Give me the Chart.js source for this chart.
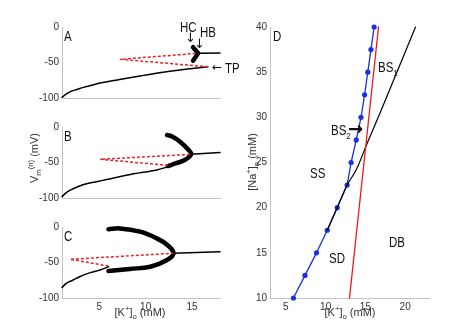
<!DOCTYPE html>
<html lang="en">
<head>
<meta charset="UTF-8">
<title>Bifurcation diagrams in [K+]o</title>
<script src="https://cdn.jsdelivr.net/npm/chart.js"></script>
<style>
  body { margin: 0; background: #fff; font-family: 'Liberation Sans', Arial, sans-serif; }
  #fig { position: relative; width: 474px; height: 335px; overflow: hidden; }
  .box { position: absolute; }
  .lbl { position: absolute; font-family: 'Liberation Sans', Arial, sans-serif;
         font-size: 14px; color: #111; line-height: 1; white-space: nowrap;
         transform: scaleX(0.82); transform-origin: left top; }
  .arr { position: absolute; font-family: 'DejaVu Sans', sans-serif; color: #111; line-height: 1; }
  .ax { position: absolute; font-size: 10px; color: #333; line-height: 1; white-space: nowrap; }
  .rot { transform: translate(-50%, -50%) rotate(-90deg); }
  .ctr { transform: translateX(-50%); }
  sub, sup { font-size: 70%; line-height: 0; }
</style>
</head>
<body>
<div id="fig">
  <div id="pA" class="box"></div>
  <div id="pB" class="box"></div>
  <div id="pC" class="box"></div>
  <div id="pD" class="box"></div>

  <span class="lbl" style="left:64px;top:29px">A</span>
  <span class="lbl" style="left:64px;top:129px">B</span>
  <span class="lbl" style="left:64px;top:229px">C</span>
  <span class="lbl" style="left:273px;top:29px">D</span>

  <span class="lbl" style="left:180px;top:20px">HC</span>
  <span class="arr" style="left:185px;top:31px;font-size:13px">&darr;</span>
  <span class="lbl" style="left:200px;top:25px">HB</span>
  <span class="arr" style="left:194px;top:37px;font-size:13px">&darr;</span>
  <span class="arr" style="left:212px;top:61px;font-size:12px">&larr;</span>
  <span class="lbl" style="left:225px;top:61px">TP</span>

  <span class="lbl" style="left:378px;top:60px">BS<sub>1</sub></span>
  <span class="lbl" style="left:331px;top:123px">BS<sub>2</sub></span>
  <span class="arr" style="left:348px;top:120px;font-size:18px;font-weight:bold">&rarr;</span>
  <span class="lbl" style="left:310px;top:166px">SS</span>
  <span class="lbl" style="left:329px;top:251px">SD</span>
  <span class="lbl" style="left:389px;top:235px">DB</span>

  <span class="ax rot" style="left:34px;top:158px;font-size:11px">V<sub>m</sub><sup>(n)</sup> (mV)</span>
  <span class="ax rot" style="left:252px;top:162px;font-size:11px">[Na<sup>+</sup>]<sub>n</sub> (mM)</span>
  <span class="ax ctr" style="left:140px;top:307px;font-size:11px">[K<sup>+</sup>]<sub>o</sub> (mM)</span>
  <span class="ax ctr" style="left:350px;top:307px;font-size:11px">[K<sup>+</sup>]<sub>o</sub> (mM)</span>
</div>

<script>
  // ---- Panel A ----
  const aLowK  = [1, 1.4, 1.9, 2.6, 3.3, 4.2, 5.1, 7.2, 9.4, 11.5, 13.7, 16.7];
  const aLowV  = [-99, -95, -91, -88, -85, -82, -79, -74, -69, -64.5, -60.5, -56];
  const aUnsK  = [16.7, 7.3, 15.65];
  const aUnsV  = [-56, -45.5, -37];
  const aHighK = [15.65, 18];
  const aHighV = [-37, -36.6];
  const aOrbK  = [15.1, 15.65, 15.1];
  const aOrbV  = [-28.5, -37, -47.5];

  // ---- Panel B ----
  const bLowK  = [1, 1.5, 2.2, 2.9, 3.65, 4.7, 5.8, 8.7, 11.2, 12.4];
  const bLowV  = [-98, -92, -87, -83, -80, -77, -74, -66, -60.5, -56];
  const bUnsK  = [12.4, 5.1, 14.9];
  const bUnsV  = [-54, -45.5, -38.5];
  const bHighK = [14.9, 18];
  const bHighV = [-38.5, -36];
  const bOrbK  = [12.3, 12.9, 13.7, 14.6, 14.9, 14.2, 13.3, 12.4];
  const bOrbV  = [-11.3, -13.6, -20.7, -32, -38.5, -46.5, -51, -55];

  // ---- Panel C ----
  const cLowK  = [1, 1.5, 2.2, 2.9, 3.65, 5.1, 6];
  const cLowV  = [-85, -79, -74.6, -70, -66, -60.5, -56];
  const cUnsK  = [6, 1.86, 13];
  const cUnsV  = [-55, -45.5, -37];
  const cHighK = [13, 18];
  const cHighV = [-37, -35];
  const cOrbK  = [6, 7.2, 9.4, 11.2, 12.3, 13, 12.3, 10.5, 8.3, 6];
  const cOrbV  = [-3.3, -2, -6.6, -16, -25, -37, -46.5, -56, -59, -62];

  // ---- Panel D ----
  const dBlueNa  = [10, 12.5, 15, 17.5, 20, 22.5, 25, 27.5, 30, 32.5, 35, 37.5, 40];
  const dBlueK   = [5.95, 7.4, 8.85, 10.2, 11.45, 12.7, 13.2, 13.85, 14.45, 14.9, 15.3, 15.7, 16.1];
  const dRedK    = [13.0, 16.65];
  const dRedNa   = [10, 40];
  const dBlackK  = [10.2, 11.5, 12.7, 13.85, 15.3, 17, 21.3];
  const dBlackNa = [17.5, 20.1, 22.5, 24.2, 27.3, 30.8, 40];

  // tick labels
  const vTicks   = [-100, -50, 0];
  const kTicks   = [5, 10, 15];
  const dKTicks  = [5, 10, 15, 20];
  const dNaTicks = [10, 15, 20, 25, 30, 35, 40];

  const pts = (xs, ys) => xs.map((x, i) => ({ x: x, y: ys[i] }));

  function curve(xs, ys, color, width, extra) {
    return Object.assign({
      data: pts(xs, ys), showLine: true, borderColor: color, backgroundColor: color,
      borderWidth: width, pointRadius: 0, fill: false, clip: false,
      borderCapStyle: 'round', borderJoinStyle: 'round'
    }, extra || {});
  }

  const smooth = { cubicInterpolationMode: 'monotone' };
  const dashed = { borderDash: [3, 2], borderCapStyle: 'butt' };
  const thick = { tension: 0.4 };

  function panel(id, area, datasets, xr, yr, xt, yt, showX) {
    const pad = { l: 44, t: 10, r: 10, b: 22 };
    const box = document.getElementById(id);
    const w = area[2] - area[0] + pad.l + pad.r;
    const h = area[3] - area[1] + pad.t + pad.b;
    box.style.left = (area[0] - pad.l) + 'px';
    box.style.top = (area[1] - pad.t) + 'px';
    const cv = document.createElement('canvas');
    cv.width = w; cv.height = h;
    box.appendChild(cv);
    const tickFont = { family: "'Liberation Sans', Arial, sans-serif", size: 10 };
    new Chart(cv, {
      type: 'scatter',
      data: { datasets: datasets },
      options: {
        responsive: false,
        animation: false,
        events: [],
        layout: { padding: { top: pad.t, right: pad.r, left: 0, bottom: 0 } },
        plugins: { legend: { display: false }, tooltip: { enabled: false } },
        scales: {
          x: {
            type: 'linear', min: xr[0], max: xr[1],
            grid: { display: false, drawTicks: false },
            border: { display: true, color: '#c4c4c4', width: 1 },
            ticks: { display: showX, color: '#333', font: tickFont, padding: 3 },
            afterBuildTicks: s => { s.ticks = xt.map(v => ({ value: v })); },
            afterFit: s => { s.height = pad.b; }
          },
          y: {
            type: 'linear', min: yr[0], max: yr[1],
            grid: { display: false, drawTicks: false },
            border: { display: true, color: '#c4c4c4', width: 1 },
            ticks: { color: '#333', font: tickFont, padding: 3 },
            afterBuildTicks: s => { s.ticks = yt.map(v => ({ value: v })); },
            afterFit: s => { s.width = pad.l; }
          }
        }
      }
    });
  }

  const red = '#e3262b';

  panel('pA', [62, 27, 220, 98], [
    curve(aUnsK, aUnsV, red, 1.5, dashed),
    curve(aLowK, aLowV, '#000', 1.5, smooth),
    curve(aHighK, aHighV, '#000', 1.5),
    curve(aOrbK, aOrbV, '#000', 4.5)
  ], [1, 18], [-100, 0], kTicks, vTicks, false);

  panel('pB', [62, 127, 220, 198], [
    curve(bUnsK, bUnsV, red, 1.5, dashed),
    curve(bLowK, bLowV, '#000', 1.5, smooth),
    curve(bHighK, bHighV, '#000', 1.5),
    curve(bOrbK, bOrbV, '#000', 4.5, thick)
  ], [1, 18], [-100, 0], kTicks, vTicks, false);

  panel('pC', [62, 227, 220, 298], [
    curve(cUnsK, cUnsV, red, 1.5, dashed),
    curve(cLowK, cLowV, '#000', 1.5, smooth),
    curve(cHighK, cHighV, '#000', 1.5),
    curve(cOrbK, cOrbV, '#000', 4.5, thick)
  ], [1, 18], [-100, 0], kTicks, vTicks, true);

  panel('pD', [270, 27, 429, 298], [
    curve(dRedK, dRedNa, '#f01818', 1.3),
    curve(dBlackK, dBlackNa, '#000', 1.2, smooth),
    curve(dBlueK, dBlueNa, '#1a2fe0', 1.3, { pointRadius: 2.6, pointBackgroundColor: '#1a2fe0', pointBorderWidth: 0 })
  ], [3, 23], [10, 40], dKTicks, dNaTicks, true);
</script>
</body>
</html>
